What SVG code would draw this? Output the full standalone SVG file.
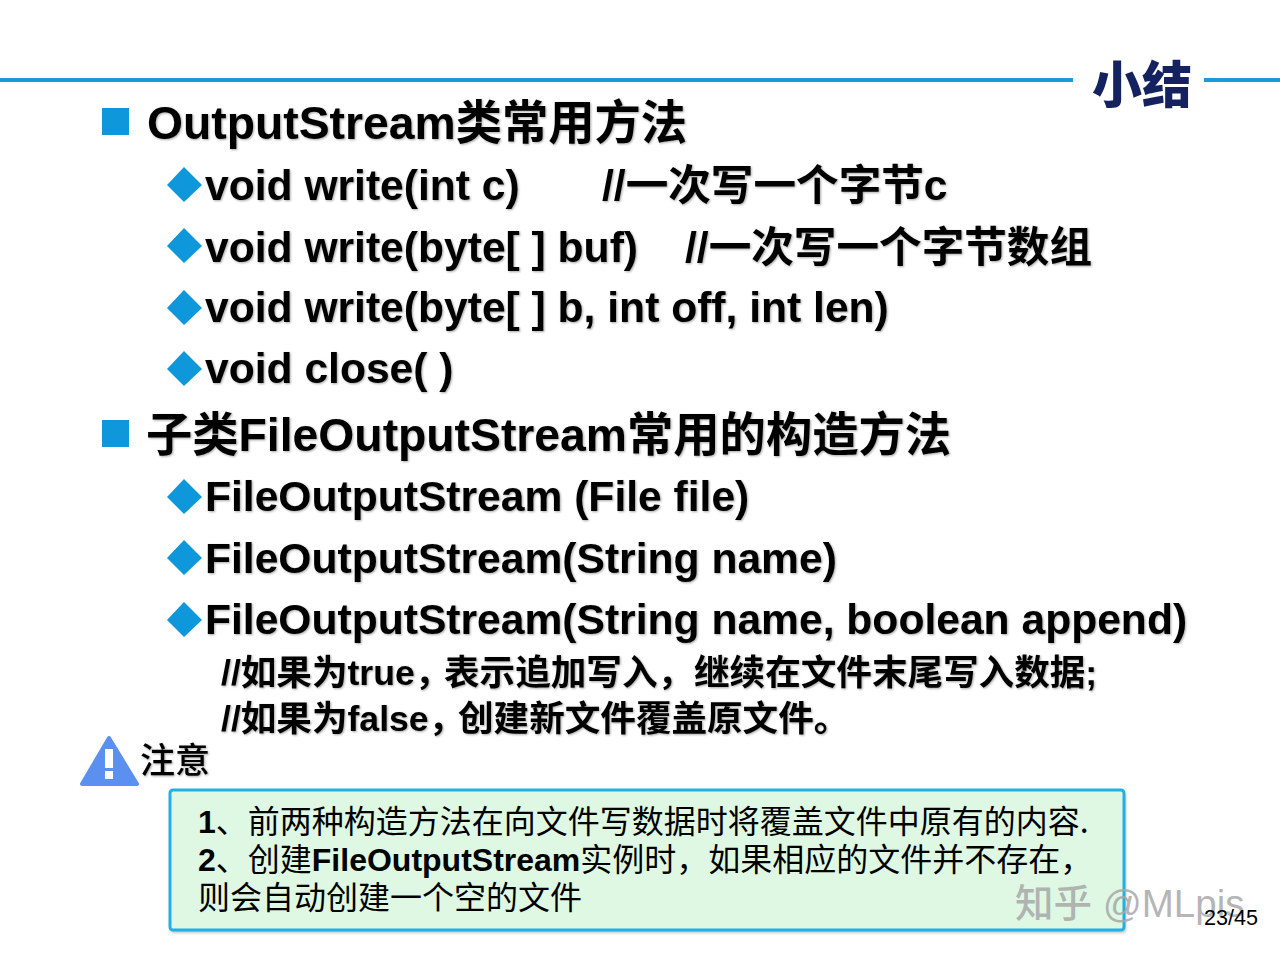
<svg xmlns="http://www.w3.org/2000/svg" width="1280" height="960" viewBox="0 0 1280 960">
<defs>
<filter id="sh" x="-5%" y="-5%" width="110%" height="110%"><feGaussianBlur stdDeviation="1.5"/></filter>
<filter id="ts" x="-5%" y="-20%" width="110%" height="140%"><feDropShadow dx="1" dy="1" stdDeviation="1" flood-color="#000" flood-opacity=".35"/></filter>
</defs>
<style>
text{font-family:"Liberation Sans","Noto Sans CJK SC",sans-serif;font-weight:700;fill:#000}
.h{font-size:46.3px}
.s{font-size:42.6px}
.n{font-size:35.6px}
.l{font-weight:400;font-family:"Noto Sans CJK SC","Liberation Serif",serif}
.bu{fill:#0f97dc}
.t{filter:url(#ts)}
</style>
<rect width="1280" height="960" fill="#fff"/>
<g id="header">
<rect x="0" y="78" width="1073" height="4" fill="#1d9ad9"/>
<rect x="1204" y="78" width="76" height="4" fill="#1d9ad9"/>
<text x="1092" y="103" style="font-size:50px;fill:#14225f;font-weight:900">小结</text>
</g>
<g id="section1">
<rect class="bu" x="102" y="108" width="27" height="27"/>
<text class="h t" x="147" y="139">OutputStream类常用方法</text>
</g>
<g id="items1">
<path class="bu" d="M184 167L202 185L184 202L167 185Z"/>
<text class="s t" x="205" y="200">void write(int c)</text>
<text class="s t" x="602" y="200">//一次写一个字节c</text>
<path class="bu" d="M184 228L202 246L184 263L167 246Z"/>
<text class="s t" x="205" y="262">void write(byte[ ] buf)</text>
<text class="s t" x="685" y="262">//一次写一个字节数组</text>
<path class="bu" d="M184 290L202 308L184 325L167 308Z"/>
<text class="s t" x="205" y="322">void write(byte[ ] b, int off, int len)</text>
<path class="bu" d="M184 351L202 369L184 386L167 369Z"/>
<text class="s t" x="205" y="383">void close( )</text>
</g>
<g id="section2">
<rect class="bu" x="102" y="420" width="27" height="27"/>
<text class="h t" x="146" y="451">子类FileOutputStream常用的构造方法</text>
</g>
<g id="items2">
<path class="bu" d="M184 479L202 497L184 514L167 497Z"/>
<text class="s t" x="205" y="511">FileOutputStream (File file)</text>
<path class="bu" d="M184 540L202 558L184 575L167 558Z"/>
<text class="s t" x="205" y="573">FileOutputStream(String name)</text>
<path class="bu" d="M184 602L202 620L184 637L167 620Z"/>
<text class="s t" x="205" y="634">FileOutputStream(String name, boolean append)</text>
<text class="n t" x="221" y="685">//如果为true，<tspan x="444">表示追加写入，</tspan><tspan x="694">继续在文件末尾写入数据;</tspan></text>
<text class="n t" x="221" y="731">//如果为false，<tspan x="458">创建新文件覆盖原文件。</tspan></text>
</g>
<g id="warning">
<path d="M109 738L137 784L82 784Z" fill="#5b8ff0" stroke="#5b8ff0" stroke-width="4" stroke-linejoin="round"/>
<rect x="105" y="749" width="8" height="19" fill="#fff"/>
<rect x="105" y="771" width="8" height="8" fill="#fff"/>
<text class="t" x="140" y="773" style="font-size:35px;font-weight:500">注意</text>
</g>
<g id="note">
<rect x="171" y="793" width="955" height="140" rx="3" fill="#888" opacity=".5" filter="url(#sh)"/>
<rect x="170" y="790" width="954" height="140" rx="3" fill="#dff8e3" stroke="#20b0e4" stroke-width="3"/>
<text x="198" y="833" style="font-size:32px">1<tspan class="l">、前两种构造方法在向文件写数据时将覆盖文件中原有的内容.</tspan></text>
<text x="198" y="871" style="font-size:32px">2<tspan class="l">、创建</tspan>FileOutputStream<tspan class="l">实例时，如果相应的文件并不存在，</tspan></text>
<text class="l" x="198" y="909" style="font-size:32px">则会自动创建一个空的文件</text>
</g>
<g id="watermark">
<text x="1015" y="917" style="font-size:38.5px;font-weight:500;fill:#a8a8a8;fill-opacity:.85">知乎 @MLpis</text>
</g>
<g id="page">
<text x="1204" y="925" style="font-size:21.6px;font-weight:400">23/45</text>
</g>
</svg>
